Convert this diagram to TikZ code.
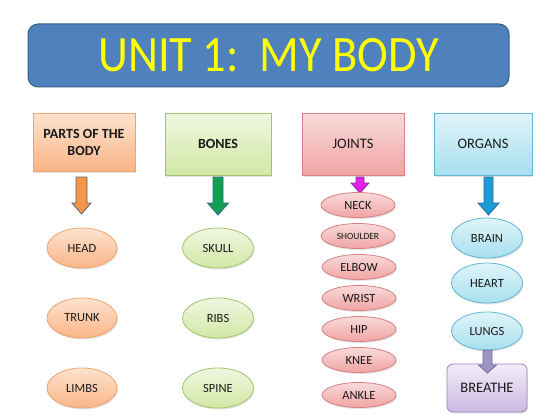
\documentclass[tikz,border=0pt]{standalone}
\usepackage{fontspec}
\setmainfont{Carlito}
\usetikzlibrary{shapes.geometric,shadows}
\definecolor{titlefill}{HTML}{4F81BD}
\definecolor{titleline}{HTML}{385D8A}
\definecolor{titletext}{HTML}{FFFF00}
\definecolor{labeltext}{HTML}{1A1A1A}
\definecolor{orTop}{HTML}{FDE3CF}\definecolor{orBot}{HTML}{F9B587}\definecolor{orLine}{HTML}{F0A46C}
\definecolor{grTop}{HTML}{EFF6E1}\definecolor{grBot}{HTML}{D2E8A6}\definecolor{grLine}{HTML}{A3C46A}
\definecolor{pkTop}{HTML}{F9DADA}\definecolor{pkBot}{HTML}{F0A4A4}\definecolor{pkLine}{HTML}{D88080}
\definecolor{blTop}{HTML}{E0F4FA}\definecolor{blBot}{HTML}{A8DFEE}\definecolor{blLine}{HTML}{5FB7D0}
\definecolor{vlTop}{HTML}{F2EDF8}\definecolor{vlBot}{HTML}{CBB9E2}\definecolor{vlLine}{HTML}{9A86BE}
\definecolor{arOr}{RGB}{245,150,70}\definecolor{arOrL}{RGB}{80,100,140}
\definecolor{arGr}{RGB}{16,160,80}\definecolor{arGrL}{RGB}{50,100,140}
\definecolor{arPk}{RGB}{230,30,230}\definecolor{arPkL}{RGB}{120,50,170}
\definecolor{arBl}{RGB}{28,155,216}\definecolor{arBlL}{RGB}{46,106,158}
\definecolor{arVl}{RGB}{160,148,196}\definecolor{arVlL}{RGB}{110,110,158}
\newcommand\blockarr[7]{%
  \draw[#7] (#1-#5,#2) -- (#1+#5,#2) -- (#1+#5,#3) -- (#1+#6,#3) -- (#1,#4)
    -- (#1-#6,#3) -- (#1-#5,#3) -- cycle;}
\tikzset{
  shade/.style={drop shadow={shadow xshift=1pt,shadow yshift=-1.5pt,opacity=0.22}},
  catbox/.style={rectangle,inner sep=0pt,align=center,text=labeltext,font=\fontsize{14.5}{17}\selectfont,shade},
  ell/.style={ellipse,inner sep=0pt,text=labeltext,font=\fontsize{12.5}{14}\selectfont,shade},
  orange/.style={top color=orTop,bottom color=orBot,draw=orLine,line width=0.8pt},
  green/.style={top color=grTop,bottom color=grBot,draw=grLine,line width=0.8pt},
  pink/.style={top color=pkTop,bottom color=pkBot,draw=pkLine,line width=0.8pt},
  blue/.style={top color=blTop,bottom color=blBot,draw=blLine,line width=0.8pt},
  violet/.style={top color=vlTop,bottom color=vlBot,draw=vlLine,line width=0.8pt},
  bigell/.style={ell,minimum width=71pt,minimum height=40pt},
  jell/.style={ell,pink,minimum width=74pt,minimum height=25pt},
  arr/.style={line width=0.8pt,line join=miter}
}
\begin{document}
\begin{tikzpicture}[x=1pt,y=-1pt]
\useasboundingbox (0,0) rectangle (560,420);
% title
\node[rectangle,rounded corners=10pt,fill=titlefill,draw=titleline,line width=1pt,
  minimum width=481pt,minimum height=63pt,text=titletext,
  font=\fontsize{51}{56}\selectfont] (title) at (268.5,55.5) {\scalebox{0.91}[1]{UNIT 1:\ \ MY BODY}};
% category boxes
\node[catbox,orange,minimum width=102pt,minimum height=58pt,font=\fontsize{14}{17}\selectfont\bfseries] (parts) at (84,142) {PARTS OF THE\\BODY};
\node[catbox,green,minimum width=106pt,minimum height=62pt,font=\fontsize{14}{17}\selectfont\bfseries] (bones) at (218,144) {BONES};
\node[catbox,pink,minimum width=102pt,minimum height=62pt] (joints) at (353,144) {JOINTS};
\node[catbox,blue,minimum width=98pt,minimum height=62pt] (organs) at (483,144) {ORGANS};
% arrows
\blockarr{81.5}{177}{203}{214}{5.5}{9.5}{arr,fill=arOr,draw=arOrL}
\blockarr{218}{177}{203}{215}{5}{10.5}{arr,fill=arGr,draw=arGrL}
\blockarr{360}{177}{183}{193}{4}{9}{arr,fill=arPk,draw=arPkL}
\blockarr{488.5}{177}{203}{215}{4.5}{10.5}{arr,fill=arBl,draw=arBlL}
% parts column
\node[bigell,orange,minimum width=70pt] (head) at (82,248) {HEAD};
\node[bigell,orange,minimum width=70pt] (trunk) at (82,318) {TRUNK};
\node[bigell,orange,minimum width=70pt] (limbs) at (82,388) {LIMBS};
% bones column
\node[bigell,green] (skull) at (218,248) {SKULL};
\node[bigell,green] (ribs) at (218,318) {RIBS};
\node[bigell,green] (spine) at (218,388) {SPINE};
% joints column
\node[jell] (neck) at (358,205) {NECK};
\node[jell,font=\fontsize{9.5}{11}\selectfont] (shoulder) at (358,236) {SHOULDER};
\node[jell] (elbow) at (359,267) {ELBOW};
\node[jell] (wrist) at (359,298) {WRIST};
\node[jell] (hip) at (359,329) {HIP};
\node[jell] (knee) at (359,360) {KNEE};
\node[jell] (ankle) at (359,395) {ANKLE};
% organs column
\node[bigell,blue] (brain) at (487,238) {BRAIN};
\node[bigell,blue] (heart) at (487,283) {HEART};
\node[bigell,blue,minimum height=38pt] (lungs) at (487,331) {LUNGS};
\node[catbox,violet,rounded corners=6pt,minimum width=80pt,minimum height=48pt] (breathe) at (487,388) {BREATHE};
\blockarr{487.5}{350}{365}{373}{4.5}{9}{arr,fill=arVl,draw=arVlL}
\end{tikzpicture}
\end{document}
